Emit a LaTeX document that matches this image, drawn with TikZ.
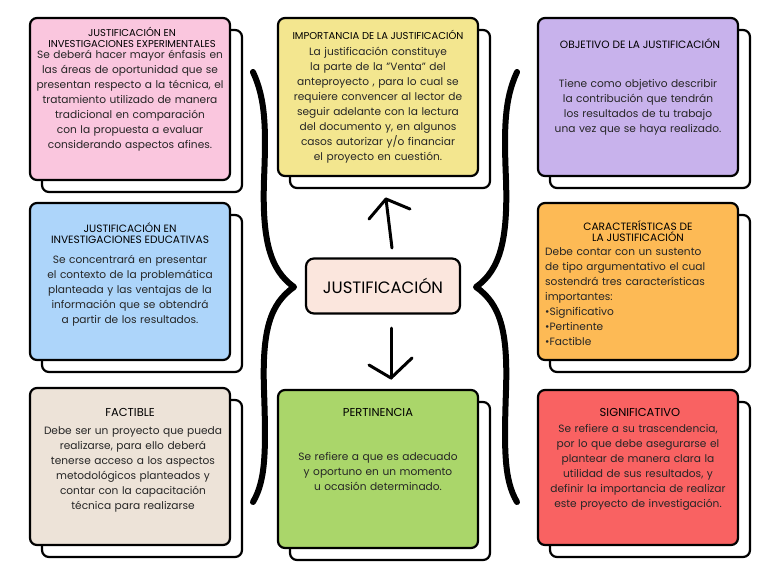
\documentclass[tikz,border=0pt]{standalone}
\usepackage{fontspec}
\setmainfont{Poppins}
\hyphenpenalty=10000\relax
\exhyphenpenalty=10000\relax
\begin{document}
\begin{tikzpicture}[x=1pt,y=-1pt,
 card/.style={draw=black,line width=2.2pt,rounded corners=7pt},
 body/.style={font=\fontsize{10.6}{15}\selectfont,text=black!85,align=center,text width=188pt,inner sep=0pt},
 ttl/.style={font=\fontsize{10.6}{11.5}\selectfont,align=center,inner sep=0pt},
 brace/.style={line width=6pt,line cap=round,line join=round},
 arr/.style={line width=3pt,line cap=round,line join=round}]
\useasboundingbox (0,0) rectangle (768,576);
\definecolor{cpink}{HTML}{FAC6DE}\definecolor{cyel}{HTML}{F3E68F}
\definecolor{cpur}{HTML}{C8B2EC}\definecolor{cblue}{HTML}{ADD5FA}
\definecolor{corg}{HTML}{FDBA55}\definecolor{cbei}{HTML}{EDE3D8}
\definecolor{cgrn}{HTML}{AAD66A}\definecolor{cred}{HTML}{F96262}
\definecolor{ccen}{HTML}{FBE6DD}
% shadows + cards
\foreach \x/\y/\h/\c/\n in {30/18/162/cpink/p1,278/18/158/cyel/p2,538/18/158/cpur/p3,30/203/157/cblue/p4,538/203/157/corg/p5,30/388/157/cbei/p6,278/390/158/cgrn/p7,538/390/155/cred/p8}{
 \draw[card,fill=white] (\x+12,\y+12) rectangle ++(200,\h);
 \draw[card,fill=\c] (\x,\y) rectangle ++(200,\h);
}
% texts
\node[ttl,font=\fontsize{10}{11}\selectfont] (t1) at (132,37) {JUSTIFICACIÓN EN\\INVESTIGACIONES EXPERIMENTALES};
\node[body,anchor=north] (b1) at (130,50) {Se deberá hacer mayor énfasis en las áreas de oportunidad que se presentan respecto a la técnica, el tratamiento utilizado de manera tradicional en comparación con la propuesta a evaluar considerando aspectos afines.};
\node[ttl,font=\fontsize{10}{11}\selectfont] (t2) at (378,35) {IMPORTANCIA DE LA JUSTIFICACIÓN};
\node[body,anchor=north,text width=172pt] (b2) at (378,47) {La justificación constituye la parte de la "Venta" del anteproyecto , para lo cual se requiere convencer al lector de seguir adelante con la lectura del documento y, en algunos casos autorizar y/o financiar el proyecto en cuestión.};
\node[ttl] (t3) at (640,44) {OBJETIVO DE LA JUSTIFICACIÓN};
\node[body,anchor=north] (b3) at (638,79) {Tiene como objetivo describir la contribución que tendrán los resultados de tu trabajo una vez que se haya realizado.};
\node[ttl] (t4) at (130,233) {JUSTIFICACIÓN EN\\INVESTIGACIONES EDUCATIVAS};
\node[body,anchor=north,text width=184pt] (b4) at (130,255) {Se concentrará en presentar el contexto de la problemática planteada y las ventajas de la información que se obtendrá a partir de los resultados.};
\node[ttl] (t5) at (638,231) {CARACTERÍSTICAS DE\\LA JUSTIFICACIÓN};
\node[body,anchor=north west,align=left,text width=190pt] (b5) at (545,247) {Debe contar con un sustento de tipo argumentativo el cual sostendrá tres características importantes:\\•Significativo\\•Pertinente\\•Factible};
\node[ttl,font=\fontsize{11.5}{13}\selectfont] (t6) at (130,412) {FACTIBLE};
\node[body,anchor=north,text width=180pt] (b6) at (133,426) {Debe ser un proyecto que pueda realizarse, para ello deberá tenerse acceso a los aspectos metodológicos planteados y contar con la capacitación técnica para realizarse};
\node[ttl,font=\fontsize{11.5}{13}\selectfont] (t7) at (378,412) {PERTINENCIA};
\node[body,anchor=north] (b7) at (378,452) {Se refiere a que es adecuado y oportuno en un momento u ocasión determinado.};
\node[ttl,font=\fontsize{11.5}{13}\selectfont] (t8) at (640,412) {SIGNIFICATIVO};
\node[body,anchor=north] (b8) at (638,424) {Se refiere a su trascendencia, por lo que debe asegurarse el plantear de manera clara la utilidad de sus resultados, y definir la importancia de realizar este proyecto de investigación.};
% center
\node[draw,line width=2.2pt,rounded corners=8pt,fill=ccen,minimum width=154pt,minimum height=55pt,font=\fontsize{16.5}{18}\selectfont] (c) at (383,286) {JUSTIFICACIÓN};
% arrows
\coordinate (u1) at (392,248); \coordinate (u2) at (386,199);
\draw[arr] (u1) -- (u2); \draw[arr] (369,219) -- (u2) -- (410,209);
\coordinate (d1) at (391,328); \coordinate (d2) at (391,378);
\draw[arr] (d1) -- (d2); \draw[arr] (369,365) -- (d2) -- (412,358);
% braces
\draw[brace] (253,72) .. controls (266,100) and (266,130) .. (264,180) .. controls (262,240) and (270,270) .. (294,287) .. controls (270,304) and (262,330) .. (264,390) .. controls (266,450) and (266,480) .. (253,502);
\draw[brace] (517,72) .. controls (504,100) and (504,130) .. (506,180) .. controls (508,240) and (500,270) .. (476,287) .. controls (500,304) and (508,330) .. (506,390) .. controls (504,450) and (504,480) .. (517,502);
\end{tikzpicture}
\end{document}
